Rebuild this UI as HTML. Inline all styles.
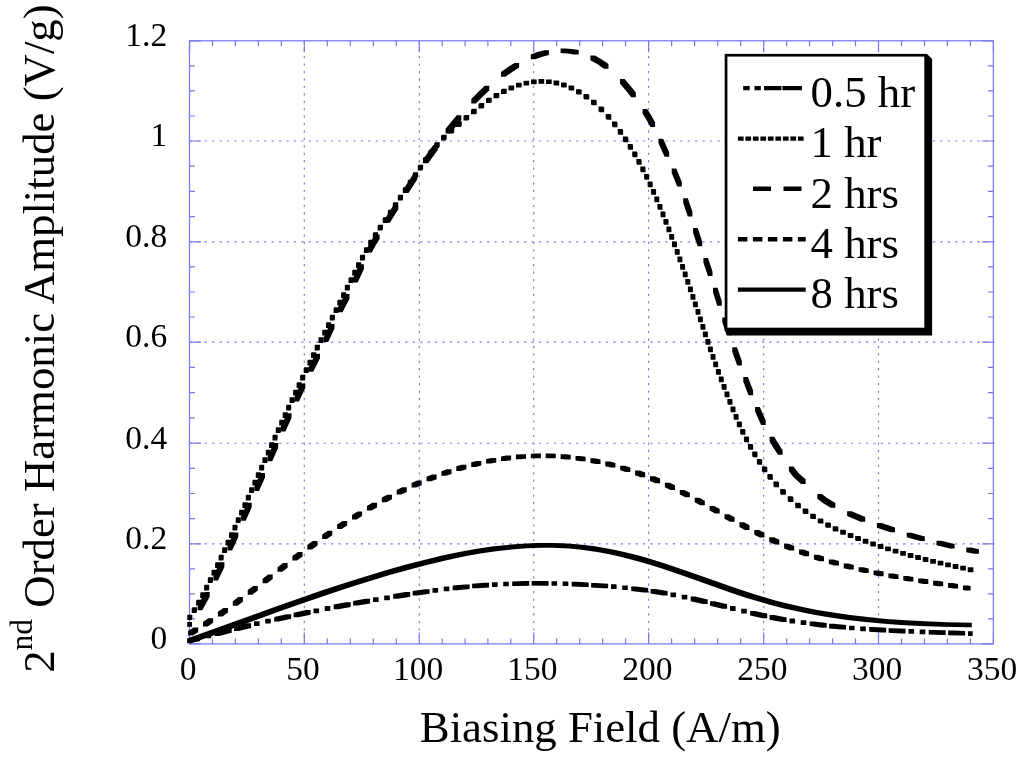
<!DOCTYPE html>
<html lang="en"><head><meta charset="utf-8"><title>2nd Order Harmonic Amplitude vs Biasing Field</title>
<style>html,body{margin:0;padding:0;background:#fff}body{width:1024px;height:758px;overflow:hidden}svg{display:block}text{font-family:"Liberation Serif",serif;fill:#000}</style></head><body>
<svg width="1024" height="758" viewBox="0 0 1024 758">
<rect width="1024" height="758" fill="#fff"/>
<path d="M304.3 41.20 V642.9 M419.3 41.20 V642.9 M533.7 41.20 V642.9 M648.6 41.20 V642.9 M763.7 41.20 V642.9 M878.5 41.20 V642.9 M994.55 543.8 H190.5 M994.55 443.2 H190.5 M994.55 342.1 H190.5 M994.55 241.8 H190.5 M994.55 141.0 H190.5" fill="none" stroke="#7a7af2" stroke-width="1.15" stroke-dasharray="2.3 5.13"/>
<path d="M189.5 643.9 v-11.5 M189.5 40.8 v11.5 M212.5 643.9 v-5.5 M212.5 40.8 v5.5 M235.4 643.9 v-5.5 M235.4 40.8 v5.5 M258.4 643.9 v-5.5 M258.4 40.8 v5.5 M281.3 643.9 v-5.5 M281.3 40.8 v5.5 M304.3 643.9 v-11.5 M304.3 40.8 v11.5 M327.3 643.9 v-5.5 M327.3 40.8 v5.5 M350.3 643.9 v-5.5 M350.3 40.8 v5.5 M373.3 643.9 v-5.5 M373.3 40.8 v5.5 M396.3 643.9 v-5.5 M396.3 40.8 v5.5 M419.3 643.9 v-11.5 M419.3 40.8 v11.5 M442.2 643.9 v-5.5 M442.2 40.8 v5.5 M465.1 643.9 v-5.5 M465.1 40.8 v5.5 M487.9 643.9 v-5.5 M487.9 40.8 v5.5 M510.8 643.9 v-5.5 M510.8 40.8 v5.5 M533.7 643.9 v-11.5 M533.7 40.8 v11.5 M556.7 643.9 v-5.5 M556.7 40.8 v5.5 M579.7 643.9 v-5.5 M579.7 40.8 v5.5 M602.6 643.9 v-5.5 M602.6 40.8 v5.5 M625.6 643.9 v-5.5 M625.6 40.8 v5.5 M648.6 643.9 v-11.5 M648.6 40.8 v11.5 M671.6 643.9 v-5.5 M671.6 40.8 v5.5 M694.6 643.9 v-5.5 M694.6 40.8 v5.5 M717.7 643.9 v-5.5 M717.7 40.8 v5.5 M740.7 643.9 v-5.5 M740.7 40.8 v5.5 M763.7 643.9 v-11.5 M763.7 40.8 v11.5 M786.7 643.9 v-5.5 M786.7 40.8 v5.5 M809.6 643.9 v-5.5 M809.6 40.8 v5.5 M832.6 643.9 v-5.5 M832.6 40.8 v5.5 M855.5 643.9 v-5.5 M855.5 40.8 v5.5 M878.5 643.9 v-11.5 M878.5 40.8 v11.5 M901.5 643.9 v-5.5 M901.5 40.8 v5.5 M924.5 643.9 v-5.5 M924.5 40.8 v5.5 M947.4 643.9 v-5.5 M947.4 40.8 v5.5 M970.4 643.9 v-5.5 M970.4 40.8 v5.5 M993.4 643.9 v-11.5 M993.4 40.8 v11.5 M189.5 643.9 h11.5 M993.4 643.9 h-11.5 M189.5 618.9 h5.5 M993.4 618.9 h-5.5 M189.5 593.8 h5.5 M993.4 593.8 h-5.5 M189.5 568.8 h5.5 M993.4 568.8 h-5.5 M189.5 543.8 h11.5 M993.4 543.8 h-11.5 M189.5 518.6 h5.5 M993.4 518.6 h-5.5 M189.5 493.5 h5.5 M993.4 493.5 h-5.5 M189.5 468.3 h5.5 M993.4 468.3 h-5.5 M189.5 443.2 h11.5 M993.4 443.2 h-11.5 M189.5 417.9 h5.5 M993.4 417.9 h-5.5 M189.5 392.7 h5.5 M993.4 392.7 h-5.5 M189.5 367.4 h5.5 M993.4 367.4 h-5.5 M189.5 342.1 h11.5 M993.4 342.1 h-11.5 M189.5 317.0 h5.5 M993.4 317.0 h-5.5 M189.5 292.0 h5.5 M993.4 292.0 h-5.5 M189.5 266.9 h5.5 M993.4 266.9 h-5.5 M189.5 241.8 h11.5 M993.4 241.8 h-11.5 M189.5 216.6 h5.5 M993.4 216.6 h-5.5 M189.5 191.4 h5.5 M993.4 191.4 h-5.5 M189.5 166.2 h5.5 M993.4 166.2 h-5.5 M189.5 141.0 h11.5 M993.4 141.0 h-11.5 M189.5 116.0 h5.5 M993.4 116.0 h-5.5 M189.5 90.9 h5.5 M993.4 90.9 h-5.5 M189.5 65.9 h5.5 M993.4 65.9 h-5.5 M189.5 40.8 h11.5 M993.4 40.8 h-11.5" fill="none" stroke="#7878ee" stroke-width="1.2"/>
<rect x="189.5" y="40.8" width="803.9" height="603.1" fill="none" stroke="#7878ee" stroke-width="1.25"/>
<g fill="#000" stroke="none">
<path d="M194.5 641.4 194.5 636.8 195.5 636.5 200.1 636.5 200.1 641.1 199.1 641.4ZM205.7 638.3 205.7 633.7 206.7 633.5 211.3 633.5 211.3 638.1 210.3 638.3ZM231.7 628.1 231.7 632.7 219.3 635.9 214.7 635.9 214.7 631.3 227.1 628.1ZM251.1 623.3 251.1 627.9 238.7 631.0 234.1 631.0 234.1 626.4 246.5 623.3ZM254.0 626.1 254.0 621.5 255.0 621.3 259.6 621.3 259.6 625.9 258.6 626.1ZM265.2 623.5 265.2 618.9 266.2 618.7 270.8 618.7 270.8 623.3 269.8 623.5ZM291.2 614.2 291.2 618.8 278.8 621.5 274.2 621.5 274.2 616.9 286.6 614.2ZM310.6 610.1 310.6 614.7 298.2 617.3 293.6 617.3 293.6 612.7 306.0 610.1ZM313.5 613.2 313.5 608.6 314.5 608.4 319.1 608.4 319.1 613.0 318.1 613.2ZM324.7 610.9 324.7 606.3 325.7 606.1 330.3 606.1 330.3 610.7 329.3 610.9ZM350.7 602.3 350.7 606.9 338.3 609.2 333.7 609.2 333.7 604.6 346.1 602.3ZM370.1 598.8 370.1 603.4 357.7 605.6 353.1 605.6 353.1 601.0 365.5 598.8ZM373.0 602.1 373.0 597.5 374.0 597.3 378.6 597.3 378.6 601.9 377.6 602.1ZM384.2 600.2 384.2 595.6 385.2 595.4 389.8 595.4 389.8 600.0 388.8 600.2ZM410.2 592.1 410.2 596.7 397.8 598.7 393.2 598.7 393.2 594.1 405.6 592.1ZM429.6 589.2 429.6 593.8 417.2 595.6 412.6 595.6 412.6 591.0 425.0 589.2ZM432.5 592.8 432.5 588.2 433.5 588.0 438.1 588.0 438.1 592.6 437.1 592.8ZM443.7 591.3 443.7 586.7 444.7 586.6 449.3 586.6 449.3 591.2 448.3 591.3ZM469.7 584.4 469.7 589.0 457.3 590.2 452.7 590.2 452.7 585.6 465.1 584.4ZM489.1 582.8 489.1 587.4 476.7 588.3 472.1 588.3 472.1 583.7 484.5 582.8ZM492.0 586.9 492.0 582.3 493.0 582.2 497.6 582.2 497.6 586.8 496.6 586.9ZM503.2 586.3 503.2 581.7 504.2 581.7 508.8 581.7 508.8 586.3 507.8 586.3ZM529.2 581.1 529.2 585.7 516.8 586.0 512.2 586.0 512.2 581.4 524.6 581.1ZM548.6 581.1 548.6 585.7 544.0 585.7 531.6 585.6 531.6 581.0 536.2 581.0ZM557.1 581.2 557.1 585.8 552.5 585.8 551.5 585.8 551.5 581.2 556.1 581.2ZM568.3 581.5 568.3 586.1 563.7 586.1 562.7 586.1 562.7 581.5 567.3 581.5ZM588.7 582.4 588.7 587.0 584.1 587.0 571.7 586.4 571.7 581.8 576.3 581.8ZM608.1 583.7 608.1 588.3 603.5 588.3 591.1 587.5 591.1 582.9 595.7 582.9ZM616.6 584.4 616.6 589.0 612.0 589.0 611.0 588.9 611.0 584.3 615.6 584.3ZM627.8 585.5 627.8 590.1 623.2 590.1 622.2 590.0 622.2 585.4 626.8 585.4ZM648.2 587.9 648.2 592.5 643.6 592.5 631.2 591.0 631.2 586.4 635.8 586.4ZM667.6 591.0 667.6 595.6 663.0 595.6 650.6 593.6 650.6 589.0 655.2 589.0ZM676.1 592.6 676.1 597.2 671.5 597.2 670.5 597.0 670.5 592.4 675.1 592.4ZM687.3 594.9 687.3 599.5 682.7 599.5 681.7 599.3 681.7 594.7 686.3 594.7ZM707.7 599.5 707.7 604.1 703.1 604.1 690.7 601.2 690.7 596.6 695.3 596.6ZM727.1 604.2 727.1 608.8 722.5 608.8 710.1 605.8 710.1 601.2 714.7 601.2ZM735.6 606.3 735.6 610.9 731.0 610.9 730.0 610.7 730.0 606.1 734.6 606.1ZM746.8 609.0 746.8 613.6 742.2 613.6 741.2 613.4 741.2 608.8 745.8 608.8ZM767.2 613.6 767.2 618.2 762.6 618.2 750.2 615.5 750.2 610.9 754.8 610.9ZM786.6 617.4 786.6 622.0 782.0 622.0 769.6 619.7 769.6 615.1 774.2 615.1ZM795.1 618.8 795.1 623.4 790.5 623.4 789.5 623.2 789.5 618.6 794.1 618.6ZM806.3 620.5 806.3 625.1 801.7 625.1 800.7 624.9 800.7 620.3 805.3 620.3ZM826.7 623.1 826.7 627.7 822.1 627.7 809.7 626.1 809.7 621.5 814.3 621.5ZM846.1 625.0 846.1 629.6 841.5 629.6 829.1 628.4 829.1 623.8 833.7 623.8ZM854.6 625.7 854.6 630.3 850.0 630.3 849.0 630.3 849.0 625.7 853.6 625.7ZM865.8 626.6 865.8 631.2 861.2 631.2 860.2 631.1 860.2 626.5 864.8 626.5ZM886.2 627.8 886.2 632.4 881.6 632.4 869.2 631.7 869.2 627.1 873.8 627.1ZM905.6 628.8 905.6 633.4 901.0 633.4 888.6 632.8 888.6 628.2 893.2 628.2ZM914.1 629.2 914.1 633.8 909.5 633.8 908.5 633.7 908.5 629.1 913.1 629.1ZM925.3 629.6 925.3 634.2 920.7 634.2 919.7 634.2 919.7 629.6 924.3 629.6ZM945.7 630.3 945.7 634.9 941.1 634.9 928.7 634.5 928.7 629.9 933.3 629.9ZM965.1 631.0 965.1 635.6 960.5 635.6 948.1 635.2 948.1 630.6 952.7 630.6ZM972.7 631.3 972.7 635.9 968.1 635.9 968.0 635.9 968.0 631.3 972.6 631.3Z"/>
<path d="M277.7 607.5 277.7 612.1 191.7 643.2 187.1 643.2 187.1 638.6 273.1 607.5ZM302.7 598.7 302.7 603.3 277.7 612.1 273.1 612.1 273.1 607.5 298.1 598.7ZM324.7 591.1 324.7 595.7 302.7 603.3 298.1 603.3 298.1 598.7 320.1 591.1ZM347.7 583.5 347.7 588.1 324.7 595.7 320.1 595.7 320.1 591.1 343.1 583.5ZM369.2 576.7 369.2 581.3 347.7 588.1 343.1 588.1 343.1 583.5 364.6 576.7ZM389.7 570.5 389.7 575.1 369.2 581.3 364.6 581.3 364.6 576.7 385.1 570.5ZM409.7 564.8 409.7 569.4 389.7 575.1 385.1 575.1 385.1 570.5 405.1 564.8ZM428.7 559.9 428.7 564.5 409.7 569.4 405.1 569.4 405.1 564.8 424.1 559.9ZM446.7 555.6 446.7 560.2 428.7 564.5 424.1 564.5 424.1 559.9 442.1 555.6ZM463.7 552.0 463.7 556.6 446.7 560.2 442.1 560.2 442.1 555.6 459.1 552.0ZM480.2 549.0 480.2 553.6 463.7 556.6 459.1 556.6 459.1 552.0 475.6 549.0ZM496.2 546.6 496.2 551.2 480.2 553.6 475.6 553.6 475.6 549.0 491.6 546.6ZM511.7 544.9 511.7 549.5 496.2 551.2 491.6 551.2 491.6 546.6 507.1 544.9ZM526.7 543.7 526.7 548.3 511.7 549.5 507.1 549.5 507.1 544.9 522.1 543.7ZM541.2 543.1 541.2 547.7 526.7 548.3 522.1 548.3 522.1 543.7 536.6 543.1ZM552.2 543.0 552.2 547.6 541.2 547.7 536.6 547.7 536.6 543.1 547.6 543.0ZM563.2 543.3 563.2 547.9 558.6 547.9 547.6 547.6 547.6 543.0 552.2 543.0ZM573.7 543.9 573.7 548.5 569.1 548.5 558.6 547.9 558.6 543.3 563.2 543.3ZM584.2 544.9 584.2 549.5 579.6 549.5 569.1 548.5 569.1 543.9 573.7 543.9ZM594.7 546.3 594.7 550.9 590.1 550.9 579.6 549.5 579.6 544.9 584.2 544.9ZM604.7 547.9 604.7 552.5 600.1 552.5 590.1 550.9 590.1 546.3 594.7 546.3ZM615.2 549.9 615.2 554.5 610.6 554.5 600.1 552.5 600.1 547.9 604.7 547.9ZM626.2 552.4 626.2 557.0 621.6 557.0 610.6 554.5 610.6 549.9 615.2 549.9ZM635.7 554.8 635.7 559.4 631.1 559.4 621.6 557.0 621.6 552.4 626.2 552.4ZM645.7 557.6 645.7 562.2 641.1 562.2 631.1 559.4 631.1 554.8 635.7 554.8ZM656.2 560.7 656.2 565.3 651.6 565.3 641.1 562.2 641.1 557.6 645.7 557.6ZM667.2 564.2 667.2 568.8 662.6 568.8 651.6 565.3 651.6 560.7 656.2 560.7ZM687.7 571.2 687.7 575.8 683.1 575.8 662.6 568.8 662.6 564.2 667.2 564.2ZM736.2 588.3 736.2 592.9 731.6 592.9 683.1 575.8 683.1 571.2 687.7 571.2ZM749.7 592.8 749.7 597.4 745.1 597.4 731.6 592.9 731.6 588.3 736.2 588.3ZM761.7 596.5 761.7 601.1 757.1 601.1 745.1 597.4 745.1 592.8 749.7 592.8ZM775.2 600.4 775.2 605.0 770.6 605.0 757.1 601.1 757.1 596.5 761.7 596.5ZM788.7 603.8 788.7 608.4 784.1 608.4 770.6 605.0 770.6 600.4 775.2 600.4ZM802.7 607.0 802.7 611.6 798.1 611.6 784.1 608.4 784.1 603.8 788.7 603.8ZM817.2 609.9 817.2 614.5 812.6 614.5 798.1 611.6 798.1 607.0 802.7 607.0ZM833.2 612.6 833.2 617.2 828.6 617.2 812.6 614.5 812.6 609.9 817.2 609.9ZM850.2 615.1 850.2 619.7 845.6 619.7 828.6 617.2 828.6 612.6 833.2 612.6ZM867.7 617.1 867.7 621.7 863.1 621.7 845.6 619.7 845.6 615.1 850.2 615.1ZM886.2 618.9 886.2 623.5 881.6 623.5 863.1 621.7 863.1 617.1 867.7 617.1ZM905.2 620.3 905.2 624.9 900.6 624.9 881.6 623.5 881.6 618.9 886.2 618.9ZM925.2 621.3 925.2 625.9 920.6 625.9 900.6 624.9 900.6 620.3 905.2 620.3ZM947.2 622.2 947.2 626.8 942.6 626.8 920.6 625.9 920.6 621.3 925.2 621.3ZM971.8 622.7 971.8 627.3 967.2 627.3 942.6 626.8 942.6 622.2 947.2 622.2Z"/>
<path d="M188.1 635.5 188.1 630.9 193.6 627.6 198.2 627.6 198.2 632.2 192.7 635.5ZM203.0 626.4 203.0 621.8 208.5 618.2 213.1 618.2 213.1 622.8 207.6 626.4ZM217.9 616.4 217.9 611.8 223.4 607.9 228.0 607.9 228.0 612.5 222.5 616.4ZM232.8 605.8 232.8 601.2 238.3 597.1 242.9 597.1 242.9 601.7 237.4 605.8ZM247.7 594.7 247.7 590.1 253.2 585.9 257.8 585.9 257.8 590.5 252.3 594.7ZM262.6 583.3 262.6 578.7 268.1 574.5 272.7 574.5 272.7 579.1 267.2 583.3ZM277.5 571.8 277.5 567.2 283.0 563.1 287.6 563.1 287.6 567.7 282.1 571.8ZM292.4 560.6 292.4 556.0 297.9 551.9 302.5 551.9 302.5 556.5 297.0 560.6ZM307.3 549.6 307.3 545.0 312.8 541.1 317.4 541.1 317.4 545.7 311.9 549.6ZM322.2 539.1 322.2 534.5 327.7 530.7 332.3 530.7 332.3 535.3 326.8 539.1ZM337.1 529.0 337.1 524.4 342.6 520.9 347.2 520.9 347.2 525.5 341.7 529.0ZM352.0 519.5 352.0 514.9 357.5 511.5 362.1 511.5 362.1 516.1 356.6 519.5ZM366.9 510.6 366.9 506.0 372.4 502.8 377.0 502.8 377.0 507.4 371.5 510.6ZM381.8 502.2 381.8 497.6 387.3 494.7 391.9 494.7 391.9 499.3 386.4 502.2ZM396.7 494.6 396.7 490.0 402.2 487.3 406.8 487.3 406.8 491.9 401.3 494.6ZM411.6 487.6 411.6 483.0 417.1 480.6 421.7 480.6 421.7 485.2 416.2 487.6ZM426.5 481.3 426.5 476.7 432.0 474.6 436.6 474.6 436.6 479.2 431.1 481.3ZM441.4 475.8 441.4 471.2 446.9 469.3 451.5 469.3 451.5 473.9 446.0 475.8ZM456.3 470.9 456.3 466.3 461.8 464.7 466.4 464.7 466.4 469.3 460.9 470.9ZM471.2 466.9 471.2 462.3 476.7 460.9 481.3 460.9 481.3 465.5 475.8 466.9ZM486.1 463.5 486.1 458.9 491.6 457.9 496.2 457.9 496.2 462.5 490.7 463.5ZM511.1 455.6 511.1 460.2 505.6 461.0 501.0 461.0 501.0 456.4 506.5 455.6ZM526.0 454.2 526.0 458.8 520.5 459.2 515.9 459.2 515.9 454.6 521.4 454.2ZM540.9 453.6 540.9 458.2 535.4 458.3 530.8 458.3 530.8 453.7 536.3 453.6ZM555.8 453.7 555.8 458.3 551.2 458.3 545.7 458.2 545.7 453.6 550.3 453.6ZM570.7 454.8 570.7 459.4 566.1 459.4 560.6 458.9 560.6 454.3 565.2 454.3ZM585.6 456.7 585.6 461.3 581.0 461.3 575.5 460.5 575.5 455.9 580.1 455.9ZM600.5 459.4 600.5 464.0 595.9 464.0 590.4 462.9 590.4 458.3 595.0 458.3ZM615.4 463.0 615.4 467.6 610.8 467.6 605.3 466.2 605.3 461.6 609.9 461.6ZM630.3 467.4 630.3 472.0 625.7 472.0 620.2 470.3 620.2 465.7 624.8 465.7ZM645.2 472.6 645.2 477.2 640.6 477.2 635.1 475.2 635.1 470.6 639.7 470.6ZM660.1 478.6 660.1 483.2 655.5 483.2 650.0 480.9 650.0 476.3 654.6 476.3ZM675.0 485.3 675.0 489.9 670.4 489.9 664.9 487.3 664.9 482.7 669.5 482.7ZM689.9 492.7 689.9 497.3 685.3 497.3 679.8 494.5 679.8 489.9 684.4 489.9ZM704.8 500.7 704.8 505.3 700.2 505.3 694.7 502.3 694.7 497.7 699.3 497.7ZM719.7 508.9 719.7 513.5 715.1 513.5 709.6 510.5 709.6 505.9 714.2 505.9ZM734.6 517.2 734.6 521.8 730.0 521.8 724.5 518.8 724.5 514.2 729.1 514.2ZM749.5 525.3 749.5 529.9 744.9 529.9 739.4 526.9 739.4 522.3 744.0 522.3ZM764.4 532.9 764.4 537.5 759.8 537.5 754.3 534.7 754.3 530.1 758.9 530.1ZM779.3 539.8 779.3 544.4 774.7 544.4 769.2 541.9 769.2 537.3 773.8 537.3ZM794.2 546.0 794.2 550.6 789.6 550.6 784.1 548.4 784.1 543.8 788.7 543.8ZM809.1 551.6 809.1 556.2 804.5 556.2 799.0 554.2 799.0 549.6 803.6 549.6ZM824.0 556.6 824.0 561.2 819.4 561.2 813.9 559.4 813.9 554.8 818.5 554.8ZM838.9 561.0 838.9 565.6 834.3 565.6 828.8 564.0 828.8 559.4 833.4 559.4ZM853.8 565.0 853.8 569.6 849.2 569.6 843.7 568.2 843.7 563.6 848.3 563.6ZM868.7 568.5 868.7 573.1 864.1 573.1 858.6 571.8 858.6 567.2 863.2 567.2ZM883.6 571.6 883.6 576.2 879.0 576.2 873.5 575.1 873.5 570.5 878.1 570.5ZM898.5 574.4 898.5 579.0 893.9 579.0 888.4 578.0 888.4 573.4 893.0 573.4ZM913.4 576.9 913.4 581.5 908.8 581.5 903.3 580.6 903.3 576.0 907.9 576.0ZM928.3 579.3 928.3 583.9 923.7 583.9 918.2 583.1 918.2 578.5 922.8 578.5ZM943.2 581.7 943.2 586.3 938.6 586.3 933.1 585.4 933.1 580.8 937.7 580.8ZM958.1 584.0 958.1 588.6 953.5 588.6 948.0 587.7 948.0 583.1 952.6 583.1ZM970.6 585.9 970.6 590.5 966.0 590.5 962.9 590.0 962.9 585.4 967.5 585.4Z"/>
<path d="M187.2 620.1 187.2 615.5 187.7 614.7 192.3 614.7 192.3 619.3 191.8 620.1ZM191.7 612.9 191.7 608.3 192.4 607.2 197.0 607.2 197.0 611.8 196.3 612.9ZM196.1 605.4 196.1 600.8 196.7 599.7 201.3 599.7 201.3 604.3 200.7 605.4ZM200.2 597.9 200.2 593.3 200.7 592.2 205.3 592.2 205.3 596.8 204.8 597.9ZM204.1 590.4 204.1 585.8 204.6 584.7 209.2 584.7 209.2 589.3 208.7 590.4ZM207.8 582.9 207.8 578.3 208.4 577.2 213.0 577.2 213.0 581.8 212.4 582.9ZM211.5 575.4 211.5 570.8 212.0 569.7 216.6 569.7 216.6 574.3 216.1 575.4ZM215.1 567.9 215.1 563.3 215.6 562.2 220.2 562.2 220.2 566.8 219.7 567.9ZM218.6 560.4 218.6 555.8 219.1 554.7 223.7 554.7 223.7 559.3 223.2 560.4ZM222.1 552.9 222.1 548.3 222.6 547.2 227.2 547.2 227.2 551.8 226.7 552.9ZM225.5 545.4 225.5 540.8 226.0 539.7 230.6 539.7 230.6 544.3 230.1 545.4ZM229.0 537.9 229.0 533.3 229.5 532.2 234.1 532.2 234.1 536.8 233.6 537.9ZM232.4 530.4 232.4 525.8 232.9 524.7 237.5 524.7 237.5 529.3 237.0 530.4ZM235.7 522.9 235.7 518.3 236.2 517.2 240.8 517.2 240.8 521.8 240.3 522.9ZM239.1 515.4 239.1 510.8 239.6 509.7 244.2 509.7 244.2 514.3 243.7 515.4ZM242.4 507.9 242.4 503.3 242.9 502.2 247.5 502.2 247.5 506.8 247.0 507.9ZM245.8 500.4 245.8 495.8 246.3 494.7 250.9 494.7 250.9 499.3 250.4 500.4ZM249.1 492.9 249.1 488.3 249.6 487.2 254.2 487.2 254.2 491.8 253.7 492.9ZM252.4 485.4 252.4 480.8 252.9 479.7 257.5 479.7 257.5 484.3 257.0 485.4ZM255.8 477.9 255.8 473.3 256.2 472.2 260.8 472.2 260.8 476.8 260.4 477.9ZM259.1 470.4 259.1 465.8 259.6 464.7 264.2 464.7 264.2 469.3 263.7 470.4ZM262.4 462.9 262.4 458.3 262.9 457.2 267.5 457.2 267.5 461.8 267.0 462.9ZM265.8 455.4 265.8 450.8 266.2 449.7 270.8 449.7 270.8 454.3 270.4 455.4ZM269.1 447.9 269.1 443.3 269.6 442.2 274.2 442.2 274.2 446.8 273.7 447.9ZM272.5 440.4 272.5 435.8 273.0 434.7 277.6 434.7 277.6 439.3 277.1 440.4ZM275.8 432.9 275.8 428.3 276.3 427.2 280.9 427.2 280.9 431.8 280.4 432.9ZM279.2 425.4 279.2 420.8 279.7 419.7 284.3 419.7 284.3 424.3 283.8 425.4ZM282.7 417.9 282.7 413.3 283.2 412.2 287.8 412.2 287.8 416.8 287.3 417.9ZM286.1 410.4 286.1 405.8 286.6 404.7 291.2 404.7 291.2 409.3 290.7 410.4ZM289.6 402.9 289.6 398.3 290.1 397.2 294.7 397.2 294.7 401.8 294.2 402.9ZM293.1 395.4 293.1 390.8 293.6 389.7 298.2 389.7 298.2 394.3 297.7 395.4ZM296.6 387.9 296.6 383.3 297.1 382.2 301.7 382.2 301.7 386.8 301.2 387.9ZM300.1 380.4 300.1 375.8 300.7 374.7 305.3 374.7 305.3 379.3 304.7 380.4ZM303.7 372.9 303.7 368.3 304.3 367.2 308.9 367.2 308.9 371.8 308.3 372.9ZM307.4 365.4 307.4 360.8 307.9 359.7 312.5 359.7 312.5 364.3 312.0 365.4ZM311.0 357.9 311.0 353.3 311.6 352.2 316.2 352.2 316.2 356.8 315.6 357.9ZM314.7 350.4 314.7 345.8 315.3 344.7 319.9 344.7 319.9 349.3 319.3 350.4ZM318.4 342.9 318.4 338.3 319.0 337.2 323.6 337.2 323.6 341.8 323.0 342.9ZM322.2 335.4 322.2 330.8 322.8 329.7 327.4 329.7 327.4 334.3 326.8 335.4ZM326.0 327.9 326.0 323.3 326.5 322.2 331.1 322.2 331.1 326.8 330.6 327.9ZM329.8 320.4 329.8 315.8 330.3 314.7 334.9 314.7 334.9 319.3 334.4 320.4ZM333.6 312.9 333.6 308.3 334.1 307.2 338.7 307.2 338.7 311.8 338.2 312.9ZM337.3 305.4 337.3 300.8 337.9 299.7 342.5 299.7 342.5 304.3 341.9 305.4ZM341.1 297.9 341.1 293.3 341.6 292.2 346.2 292.2 346.2 296.8 345.7 297.9ZM344.8 290.4 344.8 285.8 345.3 284.7 349.9 284.7 349.9 289.3 349.4 290.4ZM348.5 282.9 348.5 278.3 349.0 277.2 353.6 277.2 353.6 281.8 353.1 282.9ZM352.2 275.4 352.2 270.8 352.7 269.7 357.3 269.7 357.3 274.3 356.8 275.4ZM356.0 267.9 356.0 263.3 356.5 262.2 361.1 262.2 361.1 266.8 360.6 267.9ZM359.9 260.4 359.9 255.8 360.5 254.7 365.1 254.7 365.1 259.3 364.5 260.4ZM363.9 252.9 363.9 248.3 364.5 247.2 369.1 247.2 369.1 251.8 368.5 252.9ZM368.2 245.4 368.2 240.8 368.8 239.7 373.4 239.7 373.4 244.3 372.8 245.4ZM372.8 237.9 372.8 233.3 373.5 232.2 378.1 232.2 378.1 236.8 377.4 237.9ZM377.6 230.4 377.6 225.8 378.4 224.7 383.0 224.7 383.0 229.3 382.2 230.4ZM382.7 222.9 382.7 218.3 383.4 217.2 388.0 217.2 388.0 221.8 387.3 222.9ZM387.8 215.4 387.8 210.8 388.5 209.7 393.1 209.7 393.1 214.3 392.4 215.4ZM392.8 207.9 392.8 203.3 393.5 202.2 398.1 202.2 398.1 206.8 397.4 207.9ZM397.8 200.4 397.8 195.8 398.5 194.7 403.1 194.7 403.1 199.3 402.4 200.4ZM402.8 192.9 402.8 188.3 403.5 187.2 408.1 187.2 408.1 191.8 407.4 192.9ZM407.7 185.4 407.7 180.8 408.5 179.7 413.1 179.7 413.1 184.3 412.3 185.4ZM412.7 177.9 412.7 173.3 413.5 172.2 418.1 172.2 418.1 176.8 417.3 177.9ZM417.8 170.4 417.8 165.8 418.5 164.7 423.1 164.7 423.1 169.3 422.4 170.4ZM422.9 162.9 422.9 158.3 423.7 157.2 428.3 157.2 428.3 161.8 427.5 162.9ZM428.3 155.4 428.3 150.8 429.1 149.7 433.7 149.7 433.7 154.3 432.9 155.4ZM434.2 147.9 434.2 143.3 435.1 142.2 439.7 142.2 439.7 146.8 438.8 147.9ZM441.0 140.4 441.0 135.8 442.1 134.7 446.7 134.7 446.7 139.3 445.6 140.4ZM448.5 133.5 448.5 128.9 449.6 128.0 454.2 128.0 454.2 132.6 453.1 133.5ZM456.0 126.9 456.0 122.3 457.1 121.3 461.7 121.3 461.7 125.9 460.6 126.9ZM463.5 120.4 463.5 115.8 464.6 114.9 469.2 114.9 469.2 119.5 468.1 120.4ZM471.0 114.3 471.0 109.7 472.1 108.8 476.7 108.8 476.7 113.4 475.6 114.3ZM478.5 108.5 478.5 103.9 479.6 103.0 484.2 103.0 484.2 107.6 483.1 108.5ZM486.0 103.0 486.0 98.4 487.1 97.7 491.7 97.7 491.7 102.3 490.6 103.0ZM493.5 98.2 493.5 93.6 494.6 92.9 499.2 92.9 499.2 97.5 498.1 98.2ZM501.0 94.0 501.0 89.4 502.1 88.8 506.7 88.8 506.7 93.4 505.6 94.0ZM508.5 90.4 508.5 85.8 509.6 85.4 514.2 85.4 514.2 90.0 513.1 90.4ZM516.0 87.6 516.0 83.0 517.1 82.7 521.7 82.7 521.7 87.3 520.6 87.6ZM523.5 85.5 523.5 80.9 524.6 80.7 529.2 80.7 529.2 85.3 528.1 85.5ZM531.0 84.2 531.0 79.6 532.1 79.5 536.7 79.5 536.7 84.1 535.6 84.2ZM538.5 83.7 538.5 79.1 539.6 79.1 544.2 79.1 544.2 83.7 543.1 83.7ZM551.7 79.5 551.7 84.1 547.1 84.1 546.0 84.0 546.0 79.4 550.6 79.4ZM559.2 80.8 559.2 85.4 554.6 85.4 553.5 85.1 553.5 80.5 558.1 80.5ZM566.7 82.9 566.7 87.5 562.1 87.5 561.0 87.1 561.0 82.5 565.6 82.5ZM574.2 85.9 574.2 90.5 569.6 90.5 568.5 90.0 568.5 85.4 573.1 85.4ZM581.7 89.9 581.7 94.5 577.1 94.5 576.0 93.9 576.0 89.3 580.6 89.3ZM589.2 94.8 589.2 99.4 584.6 99.4 583.5 98.6 583.5 94.0 588.1 94.0ZM596.7 100.7 596.7 105.3 592.1 105.3 591.0 104.4 591.0 99.8 595.6 99.8ZM604.2 107.6 604.2 112.2 599.6 112.2 598.5 111.1 598.5 106.5 603.1 106.5ZM611.3 115.1 611.3 119.7 606.7 119.7 605.7 118.6 605.7 114.0 610.3 114.0ZM617.5 122.6 617.5 127.2 612.9 127.2 612.0 126.1 612.0 121.5 616.6 121.5ZM623.1 130.1 623.1 134.7 618.5 134.7 617.7 133.6 617.7 129.0 622.3 129.0ZM628.3 137.6 628.3 142.2 623.7 142.2 622.9 141.1 622.9 136.5 627.5 136.5ZM633.0 145.1 633.0 149.7 628.4 149.7 627.7 148.6 627.7 144.0 632.3 144.0ZM637.4 152.6 637.4 157.2 632.8 157.2 632.2 156.1 632.2 151.5 636.8 151.5ZM641.6 160.1 641.6 164.7 637.0 164.7 636.4 163.6 636.4 159.0 641.0 159.0ZM645.5 167.6 645.5 172.2 640.9 172.2 640.3 171.1 640.3 166.5 644.9 166.5ZM649.2 175.1 649.2 179.7 644.6 179.7 644.1 178.6 644.1 174.0 648.7 174.0ZM652.7 182.6 652.7 187.2 648.1 187.2 647.6 186.1 647.6 181.5 652.2 181.5ZM656.1 190.1 656.1 194.7 651.5 194.7 651.0 193.6 651.0 189.0 655.6 189.0ZM659.3 197.6 659.3 202.2 654.7 202.2 654.3 201.1 654.3 196.5 658.9 196.5ZM662.5 205.1 662.5 209.7 657.9 209.7 657.4 208.6 657.4 204.0 662.0 204.0ZM665.5 212.6 665.5 217.2 660.9 217.2 660.5 216.1 660.5 211.5 665.1 211.5ZM668.5 220.1 668.5 224.7 663.9 224.7 663.4 223.6 663.4 219.0 668.0 219.0ZM671.4 227.6 671.4 232.2 666.8 232.2 666.4 231.1 666.4 226.5 671.0 226.5ZM674.2 235.1 674.2 239.7 669.6 239.7 669.2 238.6 669.2 234.0 673.8 234.0ZM677.0 242.6 677.0 247.2 672.4 247.2 672.0 246.1 672.0 241.5 676.6 241.5ZM679.7 250.1 679.7 254.7 675.1 254.7 674.7 253.6 674.7 249.0 679.3 249.0ZM682.4 257.6 682.4 262.2 677.8 262.2 677.4 261.1 677.4 256.5 682.0 256.5ZM685.1 265.1 685.1 269.7 680.5 269.7 680.1 268.6 680.1 264.0 684.7 264.0ZM687.7 272.6 687.7 277.2 683.1 277.2 682.7 276.1 682.7 271.5 687.3 271.5ZM690.3 280.1 690.3 284.7 685.7 284.7 685.3 283.6 685.3 279.0 689.9 279.0ZM692.9 287.6 692.9 292.2 688.3 292.2 687.9 291.1 687.9 286.5 692.5 286.5ZM695.4 295.1 695.4 299.7 690.8 299.7 690.4 298.6 690.4 294.0 695.0 294.0ZM697.9 302.6 697.9 307.2 693.3 307.2 692.9 306.1 692.9 301.5 697.5 301.5ZM700.4 310.1 700.4 314.7 695.8 314.7 695.5 313.6 695.5 309.0 700.1 309.0ZM702.9 317.6 702.9 322.2 698.3 322.2 697.9 321.1 697.9 316.5 702.5 316.5ZM705.4 325.1 705.4 329.7 700.8 329.7 700.4 328.6 700.4 324.0 705.0 324.0ZM707.9 332.6 707.9 337.2 703.3 337.2 702.9 336.1 702.9 331.5 707.5 331.5ZM710.4 340.1 710.4 344.7 705.8 344.7 705.4 343.6 705.4 339.0 710.0 339.0ZM712.9 347.6 712.9 352.2 708.3 352.2 707.9 351.1 707.9 346.5 712.5 346.5ZM715.5 355.1 715.5 359.7 710.9 359.7 710.5 358.6 710.5 354.0 715.1 354.0ZM718.1 362.6 718.1 367.2 713.5 367.2 713.2 366.1 713.2 361.5 717.8 361.5ZM720.9 370.1 720.9 374.7 716.3 374.7 715.9 373.6 715.9 369.0 720.5 369.0ZM723.7 377.6 723.7 382.2 719.1 382.2 718.7 381.1 718.7 376.5 723.3 376.5ZM726.6 385.1 726.6 389.7 722.0 389.7 721.6 388.6 721.6 384.0 726.2 384.0ZM729.5 392.6 729.5 397.2 724.9 397.2 724.5 396.1 724.5 391.5 729.1 391.5ZM732.5 400.1 732.5 404.7 727.9 404.7 727.4 403.6 727.4 399.0 732.0 399.0ZM735.5 407.6 735.5 412.2 730.9 412.2 730.5 411.1 730.5 406.5 735.1 406.5ZM738.6 415.1 738.6 419.7 734.0 419.7 733.6 418.6 733.6 414.0 738.2 414.0ZM741.9 422.6 741.9 427.2 737.3 427.2 736.8 426.1 736.8 421.5 741.4 421.5ZM745.4 430.1 745.4 434.7 740.8 434.7 740.2 433.6 740.2 429.0 744.8 429.0ZM749.1 437.6 749.1 442.2 744.5 442.2 743.9 441.1 743.9 436.5 748.5 436.5ZM753.2 445.1 753.2 449.7 748.6 449.7 747.9 448.6 747.9 444.0 752.5 444.0ZM757.5 452.6 757.5 457.2 752.9 457.2 752.2 456.1 752.2 451.5 756.8 451.5ZM762.2 460.1 762.2 464.7 757.6 464.7 756.9 463.6 756.9 459.0 761.5 459.0ZM767.3 467.6 767.3 472.2 762.7 472.2 761.9 471.1 761.9 466.5 766.5 466.5ZM772.8 475.1 772.8 479.7 768.2 479.7 767.4 478.6 767.4 474.0 772.0 474.0ZM779.0 482.6 779.0 487.2 774.4 487.2 773.4 486.1 773.4 481.5 778.0 481.5ZM785.9 490.1 785.9 494.7 781.3 494.7 780.2 493.6 780.2 489.0 784.8 489.0ZM793.4 497.3 793.4 501.9 788.8 501.9 787.7 500.9 787.7 496.3 792.3 496.3ZM800.9 503.7 800.9 508.3 796.3 508.3 795.2 507.4 795.2 502.8 799.8 502.8ZM808.4 509.4 808.4 514.0 803.8 514.0 802.7 513.2 802.7 508.6 807.3 508.6ZM815.9 514.4 815.9 519.0 811.3 519.0 810.2 518.3 810.2 513.7 814.8 513.7ZM823.4 519.0 823.4 523.6 818.8 523.6 817.7 523.0 817.7 518.4 822.3 518.4ZM830.9 523.1 830.9 527.7 826.3 527.7 825.2 527.1 825.2 522.5 829.8 522.5ZM838.4 526.8 838.4 531.4 833.8 531.4 832.7 530.9 832.7 526.3 837.3 526.3ZM845.9 530.2 845.9 534.8 841.3 534.8 840.2 534.3 840.2 529.7 844.8 529.7ZM853.4 533.4 853.4 538.0 848.8 538.0 847.7 537.5 847.7 532.9 852.3 532.9ZM860.9 536.4 860.9 541.0 856.3 541.0 855.2 540.5 855.2 535.9 859.8 535.9ZM868.4 539.2 868.4 543.8 863.8 543.8 862.7 543.4 862.7 538.8 867.3 538.8ZM875.9 541.8 875.9 546.4 871.3 546.4 870.2 546.0 870.2 541.4 874.8 541.4ZM883.4 544.3 883.4 548.9 878.8 548.9 877.7 548.5 877.7 543.9 882.3 543.9ZM890.9 546.7 890.9 551.3 886.3 551.3 885.2 551.0 885.2 546.4 889.8 546.4ZM898.4 549.0 898.4 553.6 893.8 553.6 892.7 553.3 892.7 548.7 897.3 548.7ZM905.9 551.2 905.9 555.8 901.3 555.8 900.2 555.5 900.2 550.9 904.8 550.9ZM913.4 553.3 913.4 557.9 908.8 557.9 907.7 557.6 907.7 553.0 912.3 553.0ZM920.9 555.3 920.9 559.9 916.3 559.9 915.2 559.6 915.2 555.0 919.8 555.0ZM928.4 557.3 928.4 561.9 923.8 561.9 922.7 561.6 922.7 557.0 927.3 557.0ZM935.9 559.1 935.9 563.7 931.3 563.7 930.2 563.5 930.2 558.9 934.8 558.9ZM943.4 560.9 943.4 565.5 938.8 565.5 937.7 565.3 937.7 560.7 942.3 560.7ZM950.9 562.7 950.9 567.3 946.3 567.3 945.2 567.0 945.2 562.4 949.8 562.4ZM958.4 564.3 958.4 568.9 953.8 568.9 952.7 568.7 952.7 564.1 957.3 564.1ZM965.9 566.0 965.9 570.6 961.3 570.6 960.2 570.3 960.2 565.7 964.8 565.7ZM973.4 567.6 973.4 572.2 968.8 572.2 967.7 571.9 967.7 567.3 972.3 567.3Z"/>
<path d="M187.2 626.8 187.2 622.2 187.4 621.9 192.0 621.9 192.0 626.5 191.8 626.8ZM197.7 605.6 205.1 592.1 209.7 592.1 209.7 596.7 202.3 610.2 197.7 610.2ZM213.4 575.8 219.8 562.3 224.4 562.3 224.4 566.9 218.0 580.4 213.4 580.4ZM227.5 546.0 233.7 532.5 238.3 532.5 238.3 537.1 232.1 550.6 227.5 550.6ZM241.1 516.2 247.1 502.7 251.7 502.7 251.7 507.3 245.7 520.8 241.1 520.8ZM254.4 486.4 260.4 472.9 265.0 472.9 265.0 477.5 259.0 491.0 254.4 491.0ZM267.6 456.6 273.6 443.1 278.2 443.1 278.2 447.7 272.2 461.2 267.6 461.2ZM280.8 426.8 286.9 413.3 291.5 413.3 291.5 417.9 285.4 431.4 280.8 431.4ZM294.4 397.0 300.7 383.5 305.3 383.5 305.3 388.1 299.0 401.6 294.4 401.6ZM308.6 367.2 315.4 353.7 320.0 353.7 320.0 358.3 313.2 371.8 308.6 371.8ZM323.6 337.4 329.9 323.9 334.5 323.9 334.5 328.5 328.2 342.0 323.6 342.0ZM337.9 307.6 344.9 294.1 349.5 294.1 349.5 298.7 342.5 312.2 337.9 312.2ZM353.1 277.8 359.3 264.3 363.9 264.3 363.9 268.9 357.7 282.4 353.1 282.4ZM367.2 252.6 367.2 248.0 370.7 241.5 375.3 241.5 375.3 246.1 371.8 252.6ZM370.7 246.1 370.7 241.5 375.0 234.5 379.6 234.5 379.6 239.1 375.3 246.1ZM385.3 218.2 393.7 204.7 398.3 204.7 398.3 209.3 389.9 222.8 385.3 222.8ZM403.9 188.4 412.6 174.9 417.2 174.9 417.2 179.5 408.5 193.0 403.9 193.0ZM423.6 163.2 423.6 158.6 433.3 145.1 437.9 145.1 437.9 149.7 428.2 163.2ZM445.6 133.4 445.6 128.8 456.7 115.3 461.3 115.3 461.3 119.9 450.2 133.4ZM471.3 103.6 471.3 99.0 478.2 92.0 482.8 92.0 482.8 96.6 475.9 103.6ZM478.2 96.6 478.2 92.0 484.7 85.8 489.3 85.8 489.3 90.4 482.8 96.6ZM501.0 76.7 501.0 72.1 507.7 67.3 512.3 67.3 512.3 71.9 505.6 76.7ZM507.7 71.9 507.7 67.3 514.5 62.9 519.1 62.9 519.1 67.5 512.3 71.9ZM530.8 59.2 530.8 54.6 537.7 52.1 542.3 52.1 542.3 56.7 535.4 59.2ZM548.9 50.3 548.9 54.9 542.3 56.7 537.7 56.7 537.7 52.1 544.3 50.3ZM571.8 48.9 571.8 53.5 567.2 53.5 560.6 53.1 560.6 48.5 565.2 48.5ZM578.7 49.9 578.7 54.5 574.1 54.5 567.2 53.5 567.2 48.9 571.8 48.9ZM601.8 59.4 601.8 64.0 597.2 64.0 590.4 60.2 590.4 55.6 595.0 55.6ZM608.5 64.1 608.5 68.7 603.9 68.7 597.2 64.0 597.2 59.4 601.8 59.4ZM630.3 85.7 630.3 90.3 625.7 90.3 620.0 83.7 620.0 79.1 624.6 79.1ZM635.8 92.6 635.8 97.2 631.2 97.2 625.7 90.3 625.7 85.7 630.3 85.7ZM651.3 115.6 651.3 120.2 646.7 120.2 642.6 113.5 642.6 108.9 647.2 108.9ZM655.1 122.4 655.1 127.0 650.5 127.0 646.7 120.2 646.7 115.6 651.3 115.6ZM669.2 152.2 669.2 156.8 664.6 156.8 658.5 143.3 658.5 138.7 663.1 138.7ZM681.8 182.0 681.8 186.6 677.2 186.6 671.7 173.1 671.7 168.5 676.3 168.5ZM692.4 211.8 692.4 216.4 687.8 216.4 683.2 202.9 683.2 198.3 687.8 198.3ZM702.2 241.6 702.2 246.2 697.6 246.2 693.1 232.7 693.1 228.1 697.7 228.1ZM712.5 271.4 712.5 276.0 707.9 276.0 703.4 262.5 703.4 257.9 708.0 257.9ZM721.8 301.2 721.8 305.8 717.2 305.8 713.0 292.3 713.0 287.7 717.6 287.7ZM731.3 331.0 731.3 335.6 726.7 335.6 722.3 322.1 722.3 317.5 726.9 317.5ZM741.8 360.8 741.8 365.4 737.2 365.4 732.3 351.9 732.3 347.3 736.9 347.3ZM753.1 390.6 753.1 395.2 748.5 395.2 743.3 381.7 743.3 377.1 747.9 377.1ZM765.7 420.4 765.7 425.0 761.1 425.0 755.1 411.5 755.1 406.9 759.7 406.9ZM777.8 442.8 777.8 447.4 773.2 447.4 769.6 441.3 769.6 436.7 774.2 436.7ZM782.6 450.2 782.6 454.8 778.0 454.8 773.2 447.4 773.2 442.8 777.8 442.8ZM796.3 470.3 796.3 474.9 791.7 474.9 788.9 471.1 788.9 466.5 793.5 466.5ZM798.8 473.2 798.8 477.8 794.2 477.8 791.7 474.9 791.7 470.3 796.3 470.3ZM801.8 476.0 801.8 480.6 797.2 480.6 794.2 477.8 794.2 473.2 798.8 473.2ZM805.6 479.3 805.6 483.9 801.0 483.9 797.2 480.6 797.2 476.0 801.8 476.0ZM827.8 498.6 827.8 503.2 823.2 503.2 817.3 498.7 817.3 494.1 821.9 494.1ZM835.4 503.1 835.4 507.7 830.8 507.7 823.2 503.2 823.2 498.6 827.8 498.6ZM865.2 517.1 865.2 521.7 860.6 521.7 847.1 515.9 847.1 511.3 851.7 511.3ZM895.0 527.6 895.0 532.2 890.4 532.2 876.9 527.7 876.9 523.1 881.5 523.1ZM924.8 536.5 924.8 541.1 920.2 541.1 906.7 537.3 906.7 532.7 911.3 532.7ZM954.6 544.0 954.6 548.6 950.0 548.6 936.5 545.3 936.5 540.7 941.1 540.7ZM978.9 549.2 978.9 553.8 974.3 553.8 966.3 552.2 966.3 547.6 970.9 547.6Z"/>
</g>
<g font-size="33.5" text-anchor="middle">
<text x="188.2" y="679.7">0</text>
<text x="303.0" y="679.7">50</text>
<text x="418.0" y="679.7">100</text>
<text x="532.4" y="679.7">150</text>
<text x="647.3" y="679.7">200</text>
<text x="762.4" y="679.7">250</text>
<text x="877.2" y="679.7">300</text>
<text x="992.1" y="679.7">350</text>
</g>
<g font-size="33.5" text-anchor="end">
<text x="167.2" y="649.2">0</text>
<text x="167.2" y="549.0">0.2</text>
<text x="167.2" y="448.5">0.4</text>
<text x="167.2" y="347.4">0.6</text>
<text x="167.2" y="247.1">0.8</text>
<text x="167.2" y="146.3">1</text>
<text x="167.2" y="46.1">1.2</text>
</g>
<text x="419.8" y="742.4" font-size="44.8">Biasing Field (A/m)</text>
<text transform="translate(54.4 672.8) rotate(-90)" font-size="44.8">2<tspan font-size="31.5" dy="-22.8">nd</tspan><tspan dy="22.8"> Order Harmonic Amplitude (V/g)</tspan></text>
<path d="M925.0 53.9 H927.0 L932.1 59.0 V335.5 H729.8 L724.7 330.4 V328.4 H925.0 Z" fill="#000"/>
<rect x="726.05" y="55.25" width="199.60" height="273.80" fill="#fff" stroke="#000" stroke-width="2.7"/>
<g font-size="44.8">
<text x="810.6" y="107.1">0.5 hr</text>
<text x="810.6" y="157.4">1 hr</text>
<text x="810.6" y="207.7">2 hrs</text>
<text x="810.6" y="258.0">4 hrs</text>
<text x="810.6" y="308.3">8 hrs</text>
</g>
<g fill="none" stroke="#000" stroke-width="4.4">
<path d="M743.2 88.1 H749.7 M754.5 88.1 H760.8 M764.0 88.1 H781.4 M782.4 88.1 H801.9"/>
<path d="M737.9 138.6 H803.8" stroke-dasharray="5.7 1.8"/>
<path d="M753.0 188.7 H771.0 M783.5 188.7 H801.5"/>
<path d="M737.9 239.3 H805.7" stroke-dasharray="9.5 5.5"/>
<path d="M737.9 289.6 H805.7"/>
</g>
</svg></body></html>
